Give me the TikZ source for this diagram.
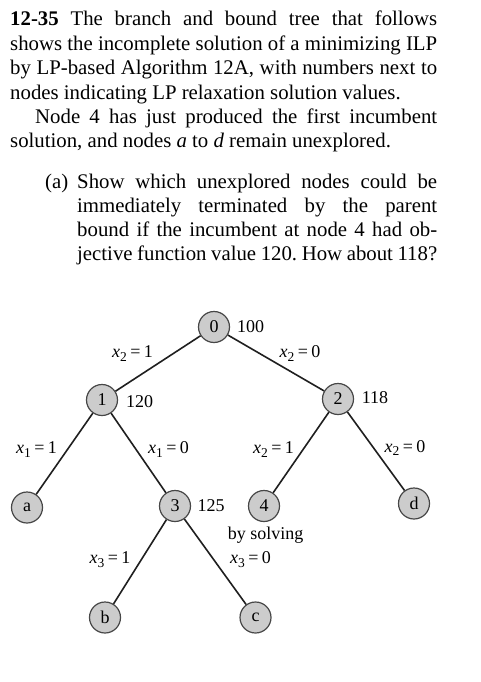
\documentclass[tikz,border=0pt]{standalone}
\usepackage{fontspec}
\setmainfont{Liberation Serif}
\frenchspacing
\newcommand\xeq[2]{\textit{x}\raisebox{-0.4ex}{\fontsize{13.5pt}{13.5pt}\selectfont #1}\hspace{3.5pt}=\hspace{3.5pt}#2}
\tikzset{
  bb/.style={circle, draw=black!72, fill=black!20, line width=1.2pt, minimum size=31pt, inner sep=0pt, font=\fontsize{18pt}{18pt}\selectfont},
  lbl/.style={inner sep=0pt, font=\fontsize{18pt}{18pt}\selectfont},
  edge/.style={line width=1.6pt, draw=black!88},
}
\begin{document}
\begin{tikzpicture}[x=1pt,y=-1pt]
\useasboundingbox[fill=white] (0,0) rectangle (480,682);
% text
\node[anchor=base west, inner sep=0pt] (para) at (10,26) {\parbox[t]{427pt}{\fontsize{20.8pt}{24.4pt}\selectfont\setlength\parindent{25pt}%
\noindent\textbf{12-35} The branch and bound tree that follows\linebreak shows the incomplete solution of a minimizing ILP\linebreak by LP-based Algorithm 12A, with numbers next to\linebreak nodes indicating LP relaxation solution values.\par
Node 4 has just produced the first incumbent\linebreak solution, and nodes \textit{a} to \textit{d} remain unexplored.}};
\node[anchor=base west, inner sep=0pt] (parta) at (45,188.3) {\parbox[t]{392pt}{\fontsize{20.8pt}{24.2pt}\selectfont\hangindent=32pt\hangafter=1\parfillskip=0pt%
\noindent\makebox[32pt][l]{(a)}Show which unexplored nodes could be\linebreak immediately terminated by the parent\linebreak bound if the incumbent at node 4 had ob-\linebreak jective function value 120. How about 118?}};
% tree nodes
\node[bb] (n0) at (214,327) {0};
\node[bb] (n1) at (102,400) {1};
\node[bb] (n2) at (338,399) {2};
\node[bb] (na) at (27,507.5) {a};
\node[bb] (n3) at (175,506) {3};
\node[bb] (n4) at (264,506) {4};
\node[bb] (nd) at (414,503.5) {d};
\node[bb] (nb) at (105,617.5) {b};
\node[bb] (nc) at (255.5,617.5) {c};
% edges
\draw[edge] (n0) -- (n1);
\draw[edge] (n0) -- (n2);
\draw[edge] (n1) -- (na);
\draw[edge] (n1) -- (n3);
\draw[edge] (n2) -- (n4);
\draw[edge] (n2) -- (nd);
\draw[edge] (n3) -- (nb);
\draw[edge] (n3) -- (nc);
% values
\node[lbl] (v0) at (250.5,326.5) {100};
\node[lbl] (v1) at (139.5,402) {120};
\node[lbl] (v2) at (375,397.5) {118};
\node[lbl] (v3) at (211,505.5) {125};
% edge labels
\node[lbl] (e01) at (132.5,353.5) {\xeq{2}{1}};
\node[lbl] (e02) at (300,353.5) {\xeq{2}{0}};
\node[lbl] (e1a) at (36.5,449.5) {\xeq{1}{1}};
\node[lbl] (e13) at (168.5,449.5) {\xeq{1}{0}};
\node[lbl] (e24) at (273.5,449.5) {\xeq{2}{1}};
\node[lbl] (e2d) at (405,448) {\xeq{2}{0}};
\node[lbl] (solv) at (265.5,535) {by solving};
\node[lbl] (e3b) at (110,559.5) {\xeq{3}{1}};
\node[lbl] (e3c) at (250.5,559.5) {\xeq{3}{0}};
\end{tikzpicture}
\end{document}
